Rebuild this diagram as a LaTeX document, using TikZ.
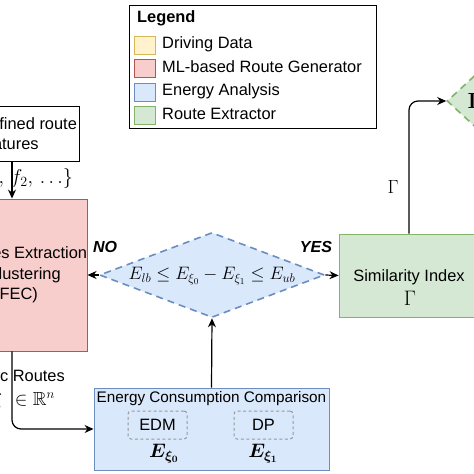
\RequirePackage{fix-cm}
\documentclass[tikz,border=0pt]{standalone}
\usepackage{amsmath,amssymb,bm}
\usepackage{fontspec}
\setmainfont{Liberation Sans}
\usetikzlibrary{shapes.geometric,arrows.meta,calc}
\definecolor{redfill}{HTML}{F8CECC}\definecolor{redline}{HTML}{B85450}
\definecolor{yelfill}{HTML}{FFF2CC}\definecolor{yelline}{HTML}{D6B656}
\definecolor{bluefill}{HTML}{DAE8FC}\definecolor{blueline}{HTML}{6C8EBF}
\definecolor{grnfill}{HTML}{D5E8D4}\definecolor{grnline}{HTML}{82B366}
\definecolor{dashgray}{HTML}{999999}
\begin{document}
\begin{tikzpicture}[x=1pt,y=-1pt,
  every node/.style={font=\fontsize{16.4}{20.5}\selectfont},
  box/.style={draw, line width=0.9pt, inner sep=0pt, align=center},
  swatch/.style={draw, line width=0.9pt, minimum width=21pt, minimum height=18pt, inner sep=0pt},
  legtxt/.style={anchor=west, inner sep=0pt},
  lab/.style={inner sep=0pt},
  decision/.style={diamond, draw, dashed, dash pattern=on 7pt off 5pt, line width=1.6pt, inner sep=0pt},
  inner/.style={draw=dashgray, dashed, dash pattern=on 3pt off 2.5pt, line width=1pt, rounded corners=3pt, minimum width=59pt, minimum height=28pt, inner sep=0pt},
  arr/.style={-{Stealth[length=9pt,width=8pt]}, line width=1.2pt},
  yn/.style={font=\fontsize{16}{19}\selectfont\bfseries\itshape, inner sep=0pt},
  bigmath/.style={font=\fontsize{19.5}{23}\selectfont}
]
\useasboundingbox (0,0) rectangle (474,474);
\fill[white] (0,0) rectangle (474,474);
\coordinate (ax) at (12,0);

% legend
\node[draw, line width=1pt, minimum width=247pt, minimum height=123pt, inner sep=0pt] (legend) at (252.5,66.5) {};
\node[legtxt, font=\fontsize{16.4}{20.5}\selectfont\bfseries] (legt) at (137,18) {Legend};
\node[swatch, fill=yelfill, draw=yelline] (sw1) at (144.5,45) {};
\node[swatch, fill=redfill, draw=redline] (sw2) at (144.5,68) {};
\node[swatch, fill=bluefill, draw=blueline] (sw3) at (144.5,92) {};
\node[swatch, fill=grnfill, draw=grnline] (sw4) at (144.5,115) {};
\node[legtxt] (lt1) at (162,44) {Driving Data};
\node[legtxt] (lt2) at (162,67) {ML-based Route Generator};
\node[legtxt] (lt3) at (162,91) {Energy Analysis};
\node[legtxt] (lt4) at (162,114) {Route Extractor};

% predefined features
\node[box, minimum width=140pt, minimum height=55pt] (pre) at (9,133.5) {User-defined route\\features};
% FEC
\node[box, fill=redfill, draw=redline, minimum width=140pt, minimum height=152pt] (fec) at (16,275) {Features Extraction\\\& Clustering\\(FEC)};
% decision
\node[decision, fill=bluefill, draw=blueline, minimum width=225pt, minimum height=85pt] (cond) at (212,275) {};
\node[lab, font=\fontsize{18}{21}\selectfont] (condt) at (212,276) {$E_{lb} \leq E_{\xi_0} - E_{\xi_1} \leq E_{ub}$};
% similarity
\node[box, fill=grnfill, draw=grnline, minimum width=140pt, minimum height=83pt] (sim) at (409,275.5) {};
\node[lab] (simt) at (409,277) {Similarity Index};
\node[lab, font=\fontsize{21}{24}\selectfont] (simg) at (410,298) {$\Gamma$};
% green decision
\node[decision, fill=grnfill, draw=grnline, minimum width=160pt, minimum height=148pt] (gdiam) at (527,101) {};
\node[lab, anchor=west, font=\fontsize{22}{26}\selectfont] (gdt) at (467.5,101) {$\boldsymbol{\Gamma}$};
% energy comparison
\node[box, fill=bluefill, draw=blueline, minimum width=235pt, minimum height=82pt] (ecc) at (211.5,429) {};
\node[lab, font=\fontsize{15.3}{19}\selectfont] (ecct) at (211.5,399) {Energy Consumption Comparison};
\node[inner] (edm) at (157.5,425) {EDM};
\node[inner] (dp) at (263.5,425) {DP};
\node[lab, bigmath] (e0) at (164,454) {$\boldsymbol{E_{\xi_0}}$};
\node[lab, bigmath] (e1) at (263,454) {$\boldsymbol{E_{\xi_1}}$};

% connectors
\draw[arr] (pre.south -| ax) -- (fec.north -| ax);
\draw[arr] (cond.west) -- (fec.east);
\draw[arr] (cond.east) -- (sim.west);
\draw[arr] (ecc.north) -- (cond.south);
\draw[arr, rounded corners=9pt] (fec.south -| ax) |- (ecc.west);
\draw[arr, rounded corners=9pt] (sim.north) |- (gdiam.west);

% connector labels
\node[lab, anchor=east, font=\fontsize{20}{23}\selectfont] (flab) at (73,178) {$\{f_1,\, f_2,\, \ldots\}$};
\node[lab, anchor=east] (rlab) at (65,377) {Synthetic Routes};
\node[lab, anchor=east, font=\fontsize{19}{22}\selectfont] (xlab) at (55,401) {$\boldsymbol{\xi}\mskip7mu\in\mathbb{R}^n$};
\node[lab, font=\fontsize{19}{22}\selectfont] (glab) at (393,187) {$\Gamma$};
\node[yn] (no) at (105,247) {NO};
\node[yn] (yes) at (316,247) {YES};
\end{tikzpicture}
\end{document}
